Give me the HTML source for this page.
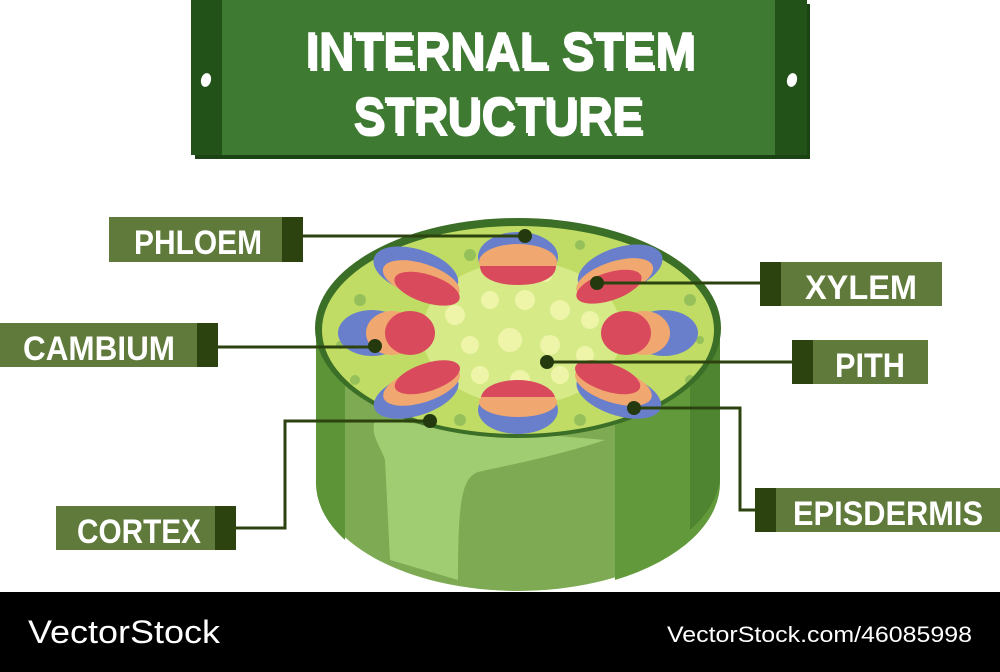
<!DOCTYPE html>
<html><head><meta charset="utf-8"><style>
html,body{margin:0;padding:0;background:#fff;}
svg{display:block}
text{font-family:"Liberation Sans Narrow","Liberation Sans",sans-serif;font-weight:bold;fill:#fff}
</style></head><body>
<svg width="1000" height="672" viewBox="0 0 1000 672" xmlns="http://www.w3.org/2000/svg">
<defs>
<clipPath id="top"><ellipse cx="518" cy="330" rx="196" ry="104"/></clipPath>
</defs>
<!-- banner -->
<rect x="195" y="4" width="615" height="155" fill="#1c4314"/>
<rect x="191" y="0" width="32" height="155" fill="#235219"/>
<rect x="775" y="0" width="32" height="155" fill="#235219"/>
<rect x="222" y="0" width="553" height="155" fill="#3f7a33"/>
<ellipse cx="206" cy="80" rx="5" ry="7" fill="#fff" transform="rotate(15 206 80)"/>
<ellipse cx="792" cy="80" rx="5" ry="7" fill="#fff" transform="rotate(15 792 80)"/>
<text x="500" y="68" font-size="52" text-anchor="middle" textLength="390" lengthAdjust="spacingAndGlyphs" fill="#1c4314" transform="translate(2,3)">INTERNAL STEM</text>
<text x="500" y="68" font-size="52" text-anchor="middle" textLength="390" lengthAdjust="spacingAndGlyphs">INTERNAL STEM</text>
<text x="498" y="133" font-size="52" text-anchor="middle" textLength="290" lengthAdjust="spacingAndGlyphs" fill="#1c4314" transform="translate(2,3)">STRUCTURE</text>
<text x="498" y="133" font-size="52" text-anchor="middle" textLength="290" lengthAdjust="spacingAndGlyphs">STRUCTURE</text>

<!-- cylinder body -->
<path d="M316 330 L316 480 A202 111 0 0 0 720 480 L720 330 Z" fill="#7daa52"/>
<path d="M316 330 L316 480 A202 111 0 0 0 345 540 L345 330 Z" fill="#5e9438"/>
<path d="M615 330 L615 580 A202 111 0 0 0 720 480 L720 330 Z" fill="#629a3b"/>
<path d="M690 330 L690 530 A202 111 0 0 0 720 480 L720 330 Z" fill="#4f8530"/>
<path d="M375 420 L605 440 C560 455 510 465 478 472 C462 478 458 500 458 580 L390 560 L385 460 C380 445 370 435 375 420 Z" fill="#a1cd72"/>
<!-- top -->
<ellipse cx="518" cy="328" rx="203" ry="110" fill="#3b6e27"/>
<ellipse cx="518" cy="330" rx="196" ry="104" fill="#c0dc64"/>
<g clip-path="url(#top)" fill="#96c15a">
<circle cx="360" cy="300" r="6"/><circle cx="470" cy="255" r="6"/><circle cx="580" cy="245" r="5"/><circle cx="675" cy="250" r="7"/><circle cx="690" cy="300" r="6"/><circle cx="690" cy="380" r="5"/><circle cx="580" cy="420" r="6"/><circle cx="460" cy="420" r="6"/><circle cx="355" cy="380" r="5"/><circle cx="700" cy="340" r="4"/><circle cx="340" cy="345" r="4"/><circle cx="500" cy="240" r="4"/><circle cx="370" cy="240" r="6"/><circle cx="660" cy="420" r="5"/>
</g>
<!-- pith -->
<ellipse cx="522" cy="333" rx="100" ry="72" fill="#d6ea88"/>
<g fill="#eef5a8">
<circle cx="455" cy="315" r="10"/><circle cx="490" cy="300" r="9"/><circle cx="525" cy="300" r="10"/><circle cx="560" cy="310" r="10"/><circle cx="590" cy="320" r="9"/><circle cx="470" cy="345" r="9"/><circle cx="510" cy="340" r="12"/><circle cx="550" cy="345" r="10"/><circle cx="585" cy="355" r="9"/><circle cx="480" cy="375" r="9"/><circle cx="520" cy="380" r="10"/><circle cx="560" cy="375" r="9"/><circle cx="515" cy="275" r="8"/><circle cx="545" cy="275" r="7"/>
</g>
<!-- top bundle -->
<ellipse cx="518" cy="257" rx="40" ry="25" fill="#6a7fcb"/>
<ellipse cx="518" cy="262" rx="39" ry="18" fill="#f1a770"/>
<path d="M480 266 L556 266 C556 278 540 285 518 285 C496 285 480 278 480 266 Z" fill="#d94a5c"/>
<!-- bottom bundle -->
<ellipse cx="518" cy="410" rx="40" ry="24" fill="#6a7fcb"/>
<ellipse cx="518" cy="402" rx="39" ry="15" fill="#f1a770"/>
<path d="M481 397 C484 385 502 380 518 380 C536 380 552 387 555 397 Z" fill="#d94a5c"/>
<!-- left bundle -->
<ellipse cx="372" cy="333" rx="34" ry="23" fill="#6a7fcb"/>
<ellipse cx="392" cy="333" rx="26" ry="22" fill="#f1a770"/>
<ellipse cx="410" cy="333" rx="25" ry="22" fill="#d94a5c"/>
<!-- right bundle -->
<ellipse cx="664" cy="333" rx="34" ry="23" fill="#6a7fcb"/>
<ellipse cx="644" cy="333" rx="26" ry="22" fill="#f1a770"/>
<ellipse cx="626" cy="333" rx="25" ry="22" fill="#d94a5c"/>
<!-- diagonal bundles -->
<g transform="rotate(18 420 278)"><ellipse cx="414" cy="273" rx="44" ry="22" fill="#6a7fcb"/><ellipse cx="422" cy="280" rx="40" ry="17" fill="#f1a770"/><ellipse cx="430" cy="286" rx="34" ry="14" fill="#d94a5c"/></g>
<g transform="rotate(-18 616 276)"><ellipse cx="622" cy="271" rx="44" ry="22" fill="#6a7fcb"/><ellipse cx="614" cy="278" rx="40" ry="17" fill="#f1a770"/><ellipse cx="606" cy="284" rx="34" ry="14" fill="#d94a5c"/></g>
<g transform="rotate(-18 420 387)"><ellipse cx="414" cy="393" rx="44" ry="21" fill="#6a7fcb"/><ellipse cx="422" cy="386" rx="40" ry="17" fill="#f1a770"/><ellipse cx="430" cy="380" rx="34" ry="14" fill="#d94a5c"/></g>
<g transform="rotate(18 615 387)"><ellipse cx="621" cy="393" rx="44" ry="21" fill="#6a7fcb"/><ellipse cx="613" cy="386" rx="40" ry="17" fill="#f1a770"/><ellipse cx="605" cy="380" rx="34" ry="14" fill="#d94a5c"/></g>

<!-- connectors -->
<g stroke="#2c4310" stroke-width="3" fill="none">
<path d="M303 236 H525"/>
<path d="M218 347 H375"/>
<path d="M430 421 H285 V528 H236"/>
<path d="M597 283 H762"/>
<path d="M547 362 H794"/>
<path d="M634 408 H740 V510 H757"/>
</g>
<g fill="#243a0e">
<circle cx="525" cy="236" r="7"/><circle cx="375" cy="346" r="7"/><circle cx="430" cy="421" r="7"/><circle cx="597" cy="283" r="7"/><circle cx="547" cy="362" r="7"/><circle cx="634" cy="408" r="7"/>
</g>

<!-- labels -->
<rect x="109" y="217" width="194" height="45" fill="#5f7a3a"/><rect x="282" y="217" width="21" height="45" fill="#2c4310"/>
<text x="198" y="254" font-size="34" text-anchor="middle" textLength="128" lengthAdjust="spacingAndGlyphs">PHLOEM</text>
<rect x="0" y="323" width="218" height="44" fill="#5f7a3a"/><rect x="197" y="323" width="21" height="44" fill="#2c4310"/>
<text x="99" y="360" font-size="34" text-anchor="middle" textLength="152" lengthAdjust="spacingAndGlyphs">CAMBIUM</text>
<rect x="56" y="506" width="180" height="44" fill="#5f7a3a"/><rect x="215" y="506" width="21" height="44" fill="#2c4310"/>
<text x="139" y="543" font-size="34" text-anchor="middle" textLength="124" lengthAdjust="spacingAndGlyphs">CORTEX</text>
<rect x="760" y="262" width="182" height="44" fill="#5f7a3a"/><rect x="760" y="262" width="21" height="44" fill="#2c4310"/>
<text x="861" y="299" font-size="34" text-anchor="middle" textLength="112" lengthAdjust="spacingAndGlyphs">XYLEM</text>
<rect x="792" y="340" width="136" height="44" fill="#5f7a3a"/><rect x="792" y="340" width="21" height="44" fill="#2c4310"/>
<text x="870" y="377" font-size="34" text-anchor="middle" textLength="70" lengthAdjust="spacingAndGlyphs">PITH</text>
<rect x="755" y="488" width="245" height="44" fill="#5f7a3a"/><rect x="755" y="488" width="21" height="44" fill="#2c4310"/>
<text x="888" y="525" font-size="34" text-anchor="middle" textLength="190" lengthAdjust="spacingAndGlyphs">EPISDERMIS</text>

<!-- footer -->
<rect x="0" y="592" width="1000" height="80" fill="#000"/>
<text x="28" y="643" font-size="32" style="font-family:'Liberation Sans',sans-serif;font-weight:normal" textLength="192" lengthAdjust="spacingAndGlyphs">VectorStock</text>
<text x="972" y="642" font-size="22" text-anchor="end" style="font-family:'Liberation Sans',sans-serif;font-weight:normal" textLength="305" lengthAdjust="spacingAndGlyphs">VectorStock.com/46085998</text>
</svg>
</body></html>
